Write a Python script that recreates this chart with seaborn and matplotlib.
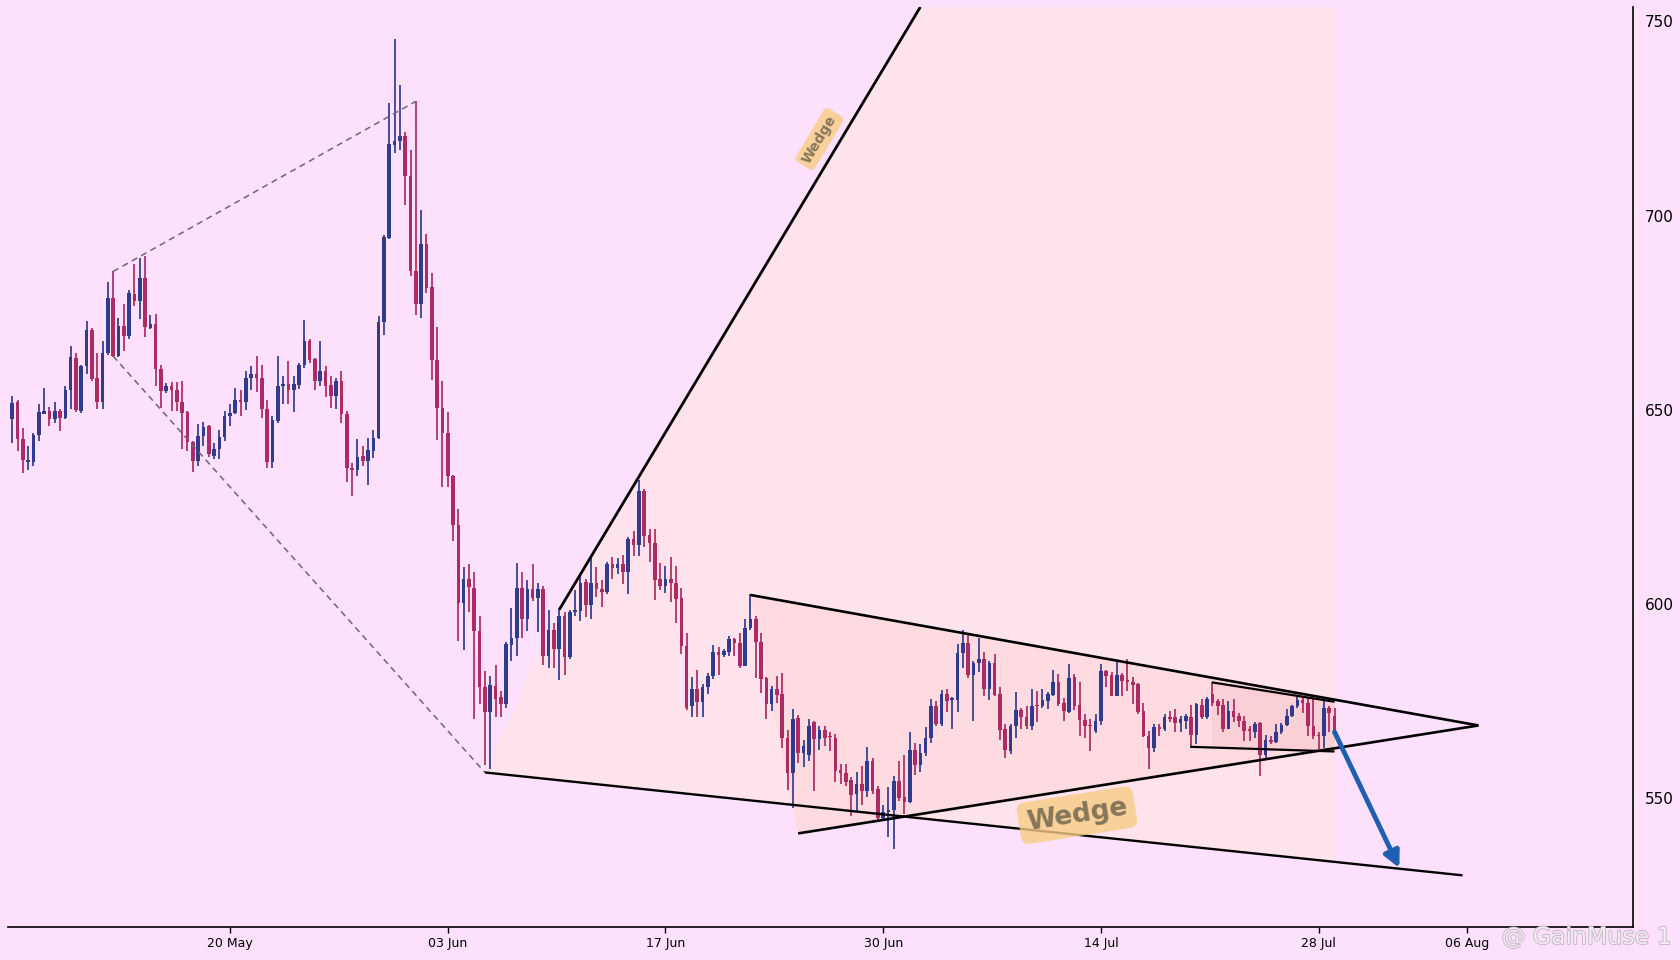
import numpy as np
import matplotlib
matplotlib.use("Agg")
import matplotlib.pyplot as plt
import matplotlib.patheffects as pe
import seaborn as sns
from matplotlib.patches import Polygon

# OHLC, one candle per slot
opens = [
    647.5, 651.9, 642.4, 636.6, 636.6, 643.6, 649.0, 649.6, 647.5, 649.6,
    647.8, 655.2, 663.3, 649.6, 661.2, 670.6, 658.2, 651.9, 664.6, 678.8,
    663.8, 671.5, 668.9, 679.9, 677.9, 683.9, 671.1, 672.2, 660.6, 654.8,
    656.1, 655.2, 651.9, 649.4, 641.7, 636.8, 643.2, 645.8, 638.1, 639.8,
    643.0, 648.4, 649.2, 652.5, 651.9, 658.2, 659.3, 658.2, 650.2, 636.5,
    647.1, 656.1, 656.5, 655.2, 656.3, 661.5, 667.6, 663.1, 657.4, 659.9,
    656.3, 653.5, 657.4, 648.8, 635.1, 634.6, 638.1, 636.8, 639.4, 642.6,
    672.6, 694.2, 718.2, 719.3, 720.5, 710.1, 685.8, 677.2, 692.7, 681.5,
    662.8, 650.4, 643.9, 633.0, 620.4, 600.3, 606.3, 604.2, 593.1, 578.5,
    572.1, 578.9, 575.9, 574.2, 589.5, 591.3, 604.2, 596.2, 603.9, 601.6,
    603.9, 586.6, 593.2, 588.3, 596.9, 586.2, 597.8, 598.2, 605.7, 599.7,
    605.3, 603.8, 603.1, 610.2, 609.3, 610.2, 608.1, 616.8, 615.1, 629.1,
    617.7, 615.6, 606.3, 604.6, 606.5, 605.3, 601.4, 589.2, 573.6, 578.2,
    574.8, 578.5, 581.5, 587.5, 586.9, 587.5, 590.9, 589.9, 584.1, 593.7,
    596.1, 590.2, 580.8, 574.2, 578.1, 576.8, 565.5, 556.5, 570.5, 561.5,
    561.0, 569.5, 565.2, 567.5, 566.1, 565.4, 557.2, 556.4, 554.7, 551.1,
    553.6, 551.7, 559.6, 552.3, 544.8, 546.3, 546.8, 554.5, 550.2, 549.1,
    562.4, 558.5, 561.6, 565.4, 573.6, 569.1, 576.8, 575.3, 575.3, 587.3,
    589.9, 581.7, 584.7, 585.9, 578.0, 584.7, 576.8, 567.8, 562.2, 568.5,
    572.7, 570.8, 568.5, 573.9, 573.6, 575.1, 576.5, 579.9, 574.5, 572.2,
    581.1, 573.9, 570.2, 568.6, 567.3, 569.9, 582.8, 581.7, 576.3, 581.7,
    580.5, 579.9, 579.3, 572.5, 566.1, 562.8, 568.2, 567.8, 571.0, 570.8,
    569.3, 569.9, 570.8, 566.2, 573.9, 570.8, 576.8, 575.1, 573.9, 567.9,
    572.5, 571.2, 569.9, 567.8, 567.1, 569.3, 561.1, 565.0, 564.5, 566.9,
    568.8, 571.2, 573.6, 575.3, 574.6, 568.5, 566.2, 565.9, 573.1, 571.2,
]
highs = [
    653.5, 652.6, 645.4, 640.6, 644.1, 651.4, 655.6, 650.7, 651.9, 650.2,
    656.1, 666.5, 664.6, 661.4, 672.8, 671.1, 664.6, 667.6, 682.8, 685.6,
    673.6, 677.3, 680.8, 687.6, 689.1, 689.7, 674.5, 674.7, 661.6, 656.9,
    657.1, 657.2, 657.4, 649.6, 641.9, 646.2, 646.9, 646.0, 641.5, 644.9,
    649.6, 651.6, 655.6, 655.2, 659.9, 661.2, 663.9, 661.5, 652.6, 648.4,
    663.8, 658.6, 662.5, 658.6, 662.1, 673.0, 668.1, 663.3, 667.8, 661.2,
    658.6, 658.2, 659.9, 649.6, 636.4, 642.4, 640.6, 642.7, 644.9, 674.1,
    695.0, 728.9, 745.5, 733.7, 721.6, 717.0, 729.4, 701.5, 695.2, 685.2,
    671.4, 657.3, 649.3, 633.2, 624.4, 609.4, 610.2, 608.1, 596.9, 582.8,
    581.5, 584.2, 577.6, 590.2, 598.9, 610.5, 608.2, 606.2, 610.2, 605.5,
    604.6, 598.5, 595.0, 598.6, 597.8, 598.5, 603.6, 607.2, 606.3, 611.7,
    609.6, 606.2, 610.8, 612.2, 611.7, 612.5, 617.3, 618.8, 631.9, 629.7,
    619.4, 619.4, 610.6, 609.8, 612.2, 609.8, 604.2, 592.6, 581.1, 583.0,
    579.3, 582.3, 589.4, 588.8, 588.3, 591.8, 591.3, 592.6, 596.2, 602.5,
    596.9, 592.6, 581.1, 578.9, 581.5, 582.3, 567.5, 572.9, 571.5, 565.0,
    570.3, 569.9, 568.6, 568.6, 566.9, 566.5, 558.8, 558.8, 555.3, 556.8,
    558.3, 563.1, 560.2, 553.0, 548.1, 552.8, 555.8, 559.6, 561.1, 567.1,
    564.2, 563.9, 568.2, 575.5, 575.1, 577.9, 578.2, 575.9, 589.6, 593.3,
    592.2, 585.3, 591.3, 587.7, 585.3, 587.1, 578.7, 569.0, 569.0, 577.2,
    573.3, 573.8, 578.2, 577.6, 578.2, 577.4, 583.0, 581.9, 575.7, 584.5,
    581.9, 579.9, 571.6, 570.3, 571.6, 584.5, 583.0, 582.5, 585.3, 582.2,
    585.8, 581.1, 579.6, 574.6, 567.3, 569.1, 569.1, 571.6, 572.5, 572.9,
    571.2, 571.6, 573.9, 574.6, 575.5, 575.9, 579.8, 575.5, 575.5, 575.1,
    575.5, 572.0, 571.2, 568.6, 569.7, 569.5, 566.2, 566.0, 569.1, 569.3,
    572.9, 573.9, 576.3, 576.1, 576.1, 575.7, 566.9, 575.5, 573.8, 573.1,
]
lows = [
    641.5, 639.4, 633.6, 634.6, 635.5, 641.9, 648.8, 645.8, 646.6, 644.5,
    647.5, 650.1, 649.4, 649.2, 659.1, 657.4, 650.1, 650.1, 664.2, 663.5,
    663.5, 665.1, 668.2, 676.8, 673.4, 668.8, 670.8, 656.1, 650.5, 654.3,
    649.6, 649.6, 639.8, 639.4, 634.0, 635.5, 640.6, 637.9, 637.4, 637.4,
    641.9, 645.8, 648.8, 648.4, 649.9, 655.0, 654.5, 647.9, 635.1, 635.1,
    646.6, 651.6, 651.6, 649.4, 655.4, 660.8, 662.1, 655.0, 656.1, 653.3,
    650.5, 650.1, 646.5, 631.3, 627.8, 633.0, 635.5, 630.7, 637.6, 642.4,
    669.2, 693.9, 716.2, 717.0, 702.8, 684.4, 674.3, 673.7, 680.1, 657.7,
    642.2, 630.1, 630.1, 616.3, 590.5, 588.2, 598.0, 570.3, 574.2, 558.5,
    557.5, 570.8, 570.8, 573.3, 585.3, 586.5, 591.2, 593.1, 600.8, 592.8,
    584.2, 583.4, 583.4, 580.5, 581.7, 585.9, 596.9, 595.6, 596.5, 596.1,
    601.9, 599.1, 602.5, 606.3, 607.6, 605.1, 602.5, 612.3, 612.3, 614.7,
    610.8, 601.0, 603.6, 602.7, 600.5, 595.0, 587.1, 572.7, 570.8, 570.8,
    570.8, 576.8, 580.6, 581.7, 586.2, 586.5, 586.6, 583.4, 583.9, 593.3,
    580.8, 577.0, 570.3, 572.5, 574.6, 563.0, 552.0, 547.5, 559.0, 558.0,
    559.5, 551.7, 562.5, 563.5, 562.2, 554.2, 553.6, 553.2, 545.5, 546.3,
    548.1, 550.2, 551.1, 543.9, 544.2, 539.9, 536.9, 549.3, 545.9, 548.7,
    555.9, 556.8, 560.9, 564.3, 568.5, 568.6, 572.2, 567.8, 572.2, 583.4,
    580.8, 569.9, 582.5, 576.2, 575.3, 576.2, 565.0, 560.2, 561.3, 565.4,
    567.9, 567.9, 567.6, 569.6, 573.1, 572.9, 576.2, 573.8, 569.9, 571.9,
    572.7, 565.9, 565.4, 562.2, 566.7, 568.8, 578.7, 576.2, 576.2, 576.2,
    577.6, 574.2, 571.6, 565.6, 557.5, 561.8, 566.0, 567.3, 569.5, 566.9,
    566.9, 567.8, 563.5, 563.9, 570.3, 570.3, 573.8, 571.4, 566.9, 567.8,
    569.5, 568.2, 564.8, 564.8, 565.4, 555.8, 560.1, 563.9, 564.2, 566.5,
    568.6, 570.8, 573.3, 571.9, 565.9, 565.2, 562.6, 562.8, 567.1, 566.5,
]
closes = [
    651.8, 642.4, 637.0, 637.0, 643.6, 649.4, 649.6, 647.5, 649.6, 647.9,
    655.2, 663.5, 649.9, 661.2, 670.4, 658.0, 651.9, 664.6, 678.8, 663.8,
    671.5, 668.9, 680.1, 677.9, 683.9, 671.3, 672.2, 660.5, 654.8, 656.1,
    655.0, 651.9, 649.2, 641.7, 636.8, 643.2, 645.6, 638.5, 639.8, 643.0,
    648.5, 649.2, 652.6, 651.9, 658.2, 659.3, 658.2, 650.1, 636.5, 647.3,
    656.1, 656.5, 655.0, 656.5, 661.6, 667.6, 662.9, 657.4, 659.9, 656.1,
    653.5, 657.4, 648.8, 634.9, 634.6, 637.9, 636.8, 639.6, 642.8, 672.5,
    694.4, 718.5, 719.3, 720.5, 710.1, 685.6, 677.2, 692.7, 681.4, 662.8,
    650.4, 643.9, 633.0, 620.4, 600.3, 606.3, 604.3, 593.1, 578.5, 572.1,
    579.1, 575.5, 574.2, 589.8, 591.3, 604.2, 596.2, 603.9, 601.6, 603.9,
    586.6, 593.2, 588.3, 596.9, 586.2, 598.0, 598.5, 605.5, 599.7, 605.3,
    603.8, 603.1, 610.2, 609.3, 610.2, 608.1, 616.8, 615.1, 629.1, 617.5,
    615.6, 606.2, 604.6, 606.5, 605.3, 601.2, 589.2, 573.3, 578.2, 574.8,
    578.7, 581.5, 587.5, 586.9, 587.9, 590.9, 589.9, 583.9, 593.7, 596.1,
    590.2, 580.6, 574.2, 578.1, 576.5, 565.5, 556.5, 570.3, 561.5, 563.5,
    568.5, 565.2, 567.5, 565.4, 565.6, 557.0, 556.4, 554.2, 550.8, 553.6,
    551.7, 559.6, 551.9, 544.8, 546.3, 547.0, 554.5, 549.9, 549.1, 562.4,
    558.5, 561.6, 565.4, 573.6, 569.1, 576.8, 575.1, 575.7, 587.3, 589.9,
    581.7, 584.7, 585.9, 578.2, 584.7, 576.5, 567.6, 562.5, 568.6, 572.7,
    570.8, 568.5, 573.8, 573.6, 575.3, 576.8, 579.9, 574.2, 572.5, 580.8,
    573.8, 570.2, 568.5, 568.5, 569.9, 582.8, 581.5, 576.3, 581.7, 580.2,
    579.8, 579.1, 572.2, 565.9, 562.8, 568.2, 567.8, 571.0, 570.3, 569.3,
    570.3, 571.2, 566.2, 574.2, 570.8, 575.5, 574.6, 573.8, 567.9, 572.5,
    570.8, 569.9, 567.3, 567.3, 569.1, 561.1, 565.0, 564.5, 567.1, 568.8,
    571.2, 573.6, 575.3, 574.6, 568.5, 565.9, 565.9, 573.1, 572.0, 566.7,
]

tick_labels = ["20 May", "03 Jun", "17 Jun", "30 Jun", "14 Jul", "28 Jul", "06 Aug"]
tick_idx = [41, 82, 123, 164, 205, 246, 274]
price_ticks = [550, 600, 650, 700, 750]

# drawn pattern lines, (candle index, price)
zigzag_up = [(19, 685.6), (76, 729.4)]
zigzag_down = [(19, 663.8), (89, 556.6)]
big_upper = [(103, 598.5), (171, 753.7)]
big_lower = [(89, 556.6), (273.1, 530.1)]
wedge_top = [(139, 602.3), (276.1, 568.7)]
wedge_bottom = [(148, 540.9), (276.1, 568.7)]
small_top = [(225.9, 579.8), (249, 574.8)]
small_bottom = [(221.8, 563.2), (249, 562.0)]
arrow_path = [(249, 567.0), (261.2, 532.0)]

BG = "#fde0fb"
UP = "#303b8c"
DOWN = "#ad2a62"
Y_MIN, Y_MAX = 516.8, 753.7
CUT = 249


def line_at(seg, x):
    (x0, y0), (x1, y1) = seg
    return y0 + (y1 - y0) * (x - x0) / (x1 - x0)


sns.set_theme(style="ticks")
plt.rcParams["font.family"] = ["DejaVu Sans"]

fig = plt.figure(figsize=(16.8, 9.6), dpi=100, facecolor=BG)
ax = fig.add_axes([8 / 1680, 33 / 960, 1625 / 1680, 920 / 960])
ax.set_facecolor(BG)

x = np.arange(len(opens))
o = np.array(opens)
c = np.array(closes)
colors = np.where(c >= o, UP, DOWN)

# pattern fills
big_poly = [big_lower[0], big_upper[0], big_upper[1], (CUT, Y_MAX),
            (CUT, line_at(big_lower, CUT))]
ax.add_patch(Polygon(big_poly, closed=True, fc="#ffe3ec", ec="none", zorder=0.5))
wedge_poly = [wedge_top[0], (CUT, line_at(wedge_top, CUT)),
              (CUT, line_at(wedge_bottom, CUT)), wedge_bottom[0]]
ax.add_patch(Polygon(wedge_poly, closed=True, fc="#fddbe0", ec="none", zorder=0.6))
small_poly = [small_top[0], small_top[1], small_bottom[1],
              (small_top[0][0], line_at(small_bottom, small_top[0][0]))]
ax.add_patch(Polygon(small_poly, closed=True, fc="#fbcfd6", ec="none", zorder=0.7))

# candles
ax.vlines(x, lows, highs, colors=colors, lw=1.25, zorder=2)
ax.bar(x, np.maximum(np.abs(c - o), 0.3), bottom=np.minimum(o, c), width=0.68,
       color=colors, linewidth=0, zorder=2.5)

# pattern lines
for seg in (zigzag_up, zigzag_down):
    xs, ys = zip(*seg)
    ax.plot(xs, ys, color="#6e6478", lw=1.1, ls=(0, (4, 3)), zorder=3)
for seg, lw in ((big_upper, 2.0), (big_lower, 1.7), (wedge_top, 1.9),
                (wedge_bottom, 1.9), (small_top, 1.6), (small_bottom, 1.6)):
    xs, ys = zip(*seg)
    ax.plot(xs, ys, color="black", lw=lw, zorder=3, solid_capstyle="butt")

ax.annotate("", xy=arrow_path[1], xytext=arrow_path[0],
            arrowprops=dict(arrowstyle="-|>", color="#1f5fb2", lw=3.5,
                            mutation_scale=24, shrinkA=0, shrinkB=0),
            zorder=4)

label_box = dict(boxstyle="round,pad=0.3", fc="#f6cd84", ec="none", alpha=0.8)
ax.text(152, 719.7, "Wedge", rotation=59, ha="center", va="center",
        fontsize=10, fontweight="bold", color="#86765a", bbox=label_box, zorder=4)
ax.text(200.5, 545.6, "Wedge", rotation=9, ha="center", va="center",
        fontsize=19, fontweight="bold", color="#86765a", bbox=label_box, zorder=4)

ax.set_xlim(-0.8, 305.2)
ax.set_ylim(Y_MIN, Y_MAX)
ax.yaxis.tick_right()
ax.set_yticks(price_ticks)
ax.set_xticks(tick_idx)
ax.set_xticklabels(tick_labels)
ax.tick_params(axis="y", labelsize=11, length=5, width=1, colors="black")
ax.tick_params(axis="x", labelsize=9, length=4, width=1, colors="black")
sns.despine(ax=ax, left=True, right=False, top=True)
for side in ("right", "bottom"):
    ax.spines[side].set_color("black")
    ax.spines[side].set_linewidth(1.2)
ax.grid(False)

fig.text(0.995, 0.024, "@ GainMuse 1", ha="right", va="center",
         fontsize=17, color="#f7f2f7", alpha=0.9,
         path_effects=[pe.withStroke(linewidth=1.2, foreground="#b9aeb9")])

fig.savefig("out.png", dpi=100, facecolor=BG)
